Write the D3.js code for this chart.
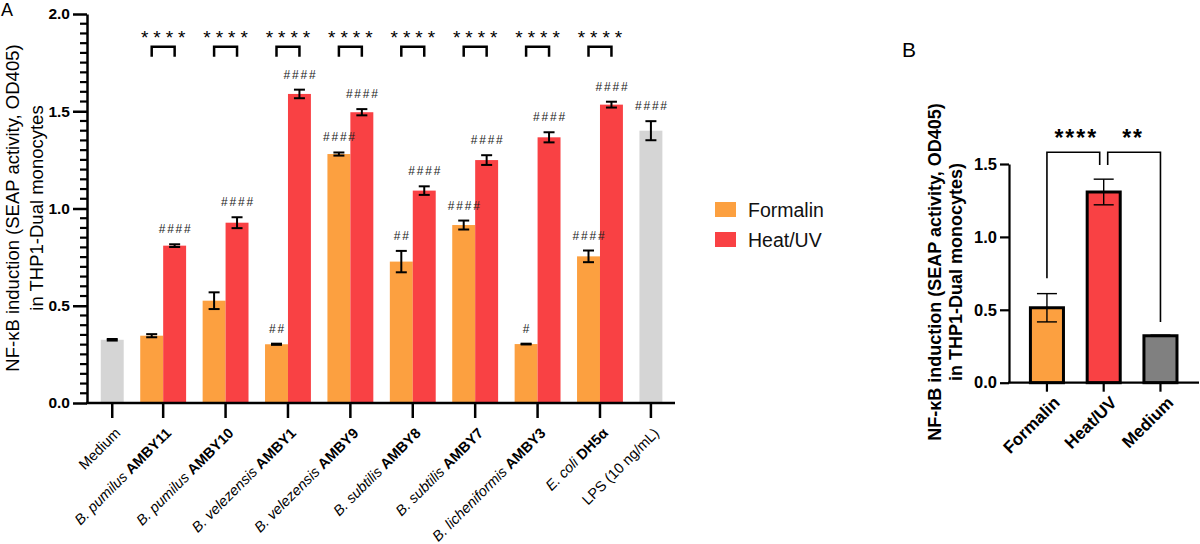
<!DOCTYPE html>
<html><head><meta charset="utf-8">
<script src="https://cdn.jsdelivr.net/npm/d3@7"></script>
<style>
html,body{margin:0;padding:0;background:#fff;}
text{font-family:"Liberation Sans",Arial,Helvetica,sans-serif;}
</style></head>
<body>
<svg id="chart" width="1200" height="544"></svg>
<script>
// ---------- DATA (panel A) ----------
const species = ["B. pumilus","B. pumilus","B. velezensis","B. velezensis","B. subtilis","B. subtilis","B. licheniformis","E. coli"];
const strains = ["AMBY11","AMBY10","AMBY1","AMBY9","AMBY8","AMBY7","AMBY3","DH5α"];
const formalinMean = [0.346,0.526,0.302,1.280,0.727,0.915,0.303,0.754];
const formalinErr  = [0.008,0.043,0.003,0.008,0.055,0.023,0.002,0.030];
const heatMean     = [0.809,0.927,1.589,1.495,1.092,1.249,1.366,1.534];
const heatErr      = [0.007,0.028,0.022,0.016,0.022,0.025,0.026,0.015];
const formalinSig  = ["","","##","####","##","####","#","####"];
const heatSig      = ["####","####","####","####","####","####","####","####"];
const pairSig      = ["****","****","****","****","****","****","****","****"];
const controlNames = ["Medium","LPS (10 ng/mL)"];
const controlMean  = [0.325,1.400];
const controlErr   = [0.004,0.049];
const controlSig   = ["","####"];
const seriesNames  = ["Formalin","Heat/UV"];
const yTicksA      = [0,0.5,1.0,1.5,2.0];
// ---------- DATA (panel B) ----------
const catsB  = ["Formalin","Heat/UV","Medium"];
const meanB  = [0.514,1.308,0.322];
const errB   = [0.097,0.088,0.004];
const sigB   = ["****","**"];
const yTicksB = [0,0.5,1.0,1.5];

const COL = {orange:"#FCA040", red:"#F94144", lgray:"#D5D5D5", dgray:"#808080"};
const svg = d3.select("#chart");
const FONT = '"Liberation Sans",Arial,Helvetica,sans-serif';

// ================= PANEL A =================
const A = {left:87, right:675, top:14, bottom:403};
const yA = d3.scaleLinear().domain([0,2]).range([A.bottom, A.top]);
const padL = 0.6, gapU = 0.72, padR = 0.55;
const slots = [1, ...strains.map(()=>2), 1];
const totalU = padL + d3.sum(slots) + gapU*(slots.length-1) + padR;
const xA = d3.scaleLinear().domain([0,totalU]).range([A.left, A.right]);
const starts = []; { let u = padL; slots.forEach(s=>{ starts.push(u); u += s + gapU; }); }
const bw = xA(1)-xA(0);

const bars = [];
bars.push({u:starts[0], v:controlMean[0], e:controlErr[0], c:COL.lgray, sig:controlSig[0]});
strains.forEach((s,i)=>{
  bars.push({u:starts[i+1], v:formalinMean[i], e:formalinErr[i], c:COL.orange, sig:formalinSig[i]});
  bars.push({u:starts[i+1]+1, v:heatMean[i], e:heatErr[i], c:COL.red, sig:heatSig[i]});
});
bars.push({u:starts[9], v:controlMean[1], e:controlErr[1], c:COL.lgray, sig:controlSig[1]});

const gA = svg.append("g");
gA.selectAll("rect.bar").data(bars).join("rect")
  .attr("x", d=>xA(d.u)).attr("width", bw)
  .attr("y", d=>yA(d.v)).attr("height", d=>yA(0)-yA(d.v))
  .attr("fill", d=>d.c);

const eb = gA.selectAll("g.eb").data(bars).join("g").attr("stroke","#000").attr("stroke-width",2);
eb.append("line").attr("x1",d=>xA(d.u+0.5)).attr("x2",d=>xA(d.u+0.5))
  .attr("y1",d=>yA(d.v-d.e)).attr("y2",d=>yA(d.v+d.e));
eb.append("line").attr("x1",d=>xA(d.u+0.5)-5.5).attr("x2",d=>xA(d.u+0.5)+5.5)
  .attr("y1",d=>yA(d.v+d.e)).attr("y2",d=>yA(d.v+d.e));
eb.append("line").attr("x1",d=>xA(d.u+0.5)-5.5).attr("x2",d=>xA(d.u+0.5)+5.5)
  .attr("y1",d=>yA(d.v-d.e)).attr("y2",d=>yA(d.v-d.e));

gA.selectAll("text.hash").data(bars.filter(d=>d.sig)).join("text")
  .attr("x", d=>xA(d.u+0.5)+1).attr("y", d=>yA(d.v+d.e)-11)
  .attr("text-anchor","middle").attr("font-size",12).attr("letter-spacing",1.8)
  .attr("fill","#222").text(d=>d.sig);

const brTop = 1.832, brBot = 1.780, starY = 1.845;
strains.forEach((s,i)=>{
  const x1 = xA(starts[i+1]+0.5), x2 = xA(starts[i+1]+1.5), cx = xA(starts[i+1]+1);
  gA.append("path").attr("d",`M${x1},${yA(brBot)}V${yA(brTop)}H${x2}V${yA(brBot)}`)
    .attr("fill","none").attr("stroke","#000").attr("stroke-width",2.5);
  gA.append("text").attr("x",cx+2.5).attr("y",yA(starY)).attr("text-anchor","middle")
    .attr("font-size",19).attr("letter-spacing",5).text(pairSig[i]);
});

const axA = gA.append("g").attr("transform",`translate(${A.left},0)`)
  .call(d3.axisLeft(yA).tickValues(yTicksA).tickFormat(d3.format(".1f")).tickSize(14).tickSizeOuter(0).tickPadding(3));
axA.select(".domain").attr("stroke-width",2.5);
axA.selectAll(".tick line").attr("stroke-width",2.5);
axA.selectAll(".tick text").attr("font-size",15.5).attr("font-weight","bold").attr("font-family",FONT).attr("fill","#000");
const minor = d3.range(1,40).map(k=>k*0.05).filter(v=>Math.abs(v*2-Math.round(v*2))>1e-6);
gA.selectAll("line.minor").data(minor).join("line")
  .attr("x1",A.left-7).attr("x2",A.left).attr("y1",d=>yA(d)).attr("y2",d=>yA(d))
  .attr("stroke","#000").attr("stroke-width",2.2);

gA.append("line").attr("x1",A.left-1).attr("x2",A.right).attr("y1",A.bottom).attr("y2",A.bottom)
  .attr("stroke","#000").attr("stroke-width",2.5);
const tickU = [starts[0]+0.5, ...strains.map((s,i)=>starts[i+1]+1), starts[9]+0.5];
const xLabels = [{plain:controlNames[0]}, ...strains.map((s,i)=>({it:species[i], b:strains[i]})), {plain:controlNames[1]}];
tickU.forEach((u,i)=>{
  const cx = xA(u);
  gA.append("line").attr("x1",cx).attr("x2",cx).attr("y1",A.bottom).attr("y2",A.bottom+15)
    .attr("stroke","#000").attr("stroke-width",2.5);
  const t = gA.append("text").attr("transform",`translate(${cx+9},${A.bottom+31}) rotate(-45)`)
    .attr("text-anchor","end").attr("font-size",14.5).attr("fill","#000");
  const L = xLabels[i];
  if (L.plain) t.text(L.plain);
  else { t.append("tspan").attr("font-style","italic").text(L.it+" ");
         t.append("tspan").attr("font-weight","bold").text(L.b); }
});

const ylA = gA.append("text").attr("transform",`translate(19,208) rotate(-90)`)
  .attr("text-anchor","middle").attr("font-size",18.5).attr("fill","#000");
ylA.append("tspan").attr("x",0).attr("dy",0).text("NF-κB induction (SEAP activity, OD405)");
ylA.append("tspan").attr("x",0).attr("dy",23.5).text("in THP1-Dual monocytes");

svg.append("text").attr("x",1).attr("y",16).attr("font-size",18).text("A");

const lg = svg.append("g");
seriesNames.forEach((n,i)=>{
  lg.append("rect").attr("x",715).attr("y",202+i*30).attr("width",21).attr("height",15)
    .attr("fill", i===0?COL.orange:COL.red);
  lg.append("text").attr("x",748).attr("y",217+i*30).attr("font-size",19.5).attr("fill","#111").text(n);
});

// ================= PANEL B =================
const B = {left:1009, right:1199, top:164, bottom:382.7};
const yB = d3.scaleLinear().domain([0,1.5]).range([B.bottom, B.top]);
const xB = d3.scaleBand().domain(catsB).range([1018.7,1188.7]).paddingInner(0.365).paddingOuter(0.18);
const colB = [COL.orange, COL.red, COL.dgray];
const gB = svg.append("g");
gB.selectAll("rect").data(catsB).join("rect")
  .attr("x",d=>xB(d)+1.5).attr("width",xB.bandwidth()-3)
  .attr("y",(d,i)=>yB(meanB[i])).attr("height",(d,i)=>yB(0)-yB(meanB[i]))
  .attr("fill",(d,i)=>colB[i]).attr("stroke","#000").attr("stroke-width",3);
catsB.forEach((c,i)=>{
  const cx = xB(c)+xB.bandwidth()/2;
  const g = gB.append("g").attr("stroke","#000").attr("stroke-width",1.4);
  g.append("line").attr("x1",cx).attr("x2",cx).attr("y1",yB(meanB[i]-errB[i])).attr("y2",yB(meanB[i]+errB[i]));
  [meanB[i]-errB[i], meanB[i]+errB[i]].forEach(v=>
    g.append("line").attr("x1",cx-10).attr("x2",cx+10).attr("y1",yB(v)).attr("y2",yB(v)));
});
const axB = gB.append("g").attr("transform",`translate(${B.left},0)`)
  .call(d3.axisLeft(yB).tickValues(yTicksB).tickFormat(d3.format(".1f")).tickSize(9).tickSizeOuter(0).tickPadding(3));
axB.select(".domain").attr("stroke-width",2.2);
axB.selectAll(".tick line").attr("stroke-width",2.2);
axB.selectAll(".tick text").attr("font-size",16.5).attr("font-weight","bold").attr("font-family",FONT).attr("fill","#000");
gB.append("line").attr("x1",B.left-1).attr("x2",B.right).attr("y1",B.bottom).attr("y2",B.bottom)
  .attr("stroke","#000").attr("stroke-width",2.2);
catsB.forEach(c=>{
  const cx = xB(c)+xB.bandwidth()/2;
  gB.append("line").attr("x1",cx).attr("x2",cx).attr("y1",B.bottom).attr("y2",B.bottom+9)
    .attr("stroke","#000").attr("stroke-width",2.2);
  gB.append("text").attr("transform",`translate(${cx+14},${B.bottom+21}) rotate(-45)`)
    .attr("text-anchor","end").attr("font-size",17).attr("font-weight","bold").text(c);
});
const cxB = catsB.map(c=>xB(c)+xB.bandwidth()/2);
const bTop = 1.581, bIn = 1.493;
const bL = meanB[0]+errB[0]+0.105, bR = meanB[2]+errB[2]+0.09;
gB.append("path").attr("d",`M${cxB[0]},${yB(bL)}V${yB(bTop)}H${cxB[1]-4}V${yB(bIn)}`)
  .attr("fill","none").attr("stroke","#000").attr("stroke-width",1.6);
gB.append("path").attr("d",`M${cxB[1]+4},${yB(bIn)}V${yB(bTop)}H${cxB[2]}V${yB(bR)}`)
  .attr("fill","none").attr("stroke","#000").attr("stroke-width",1.6);
gB.append("text").attr("x",(cxB[0]+cxB[1])/2+1).attr("y",yB(1.625)).attr("text-anchor","middle")
  .attr("font-size",23).attr("font-weight","bold").attr("letter-spacing",2).text(sigB[0]);
gB.append("text").attr("x",(cxB[1]+cxB[2])/2+1).attr("y",yB(1.625)).attr("text-anchor","middle")
  .attr("font-size",23).attr("font-weight","bold").attr("letter-spacing",2).text(sigB[1]);
const ylB = gB.append("text").attr("transform",`translate(941,272) rotate(-90)`)
  .attr("text-anchor","middle").attr("font-size",18).attr("font-weight","bold");
ylB.append("tspan").attr("x",0).attr("dy",0).text("NF-κB induction (SEAP activity, OD405)");
ylB.append("tspan").attr("x",0).attr("dy",21).text("in THP1-Dual monocytes)");
svg.append("text").attr("x",902).attr("y",57).attr("font-size",21).text("B");
</script>
</body></html>
